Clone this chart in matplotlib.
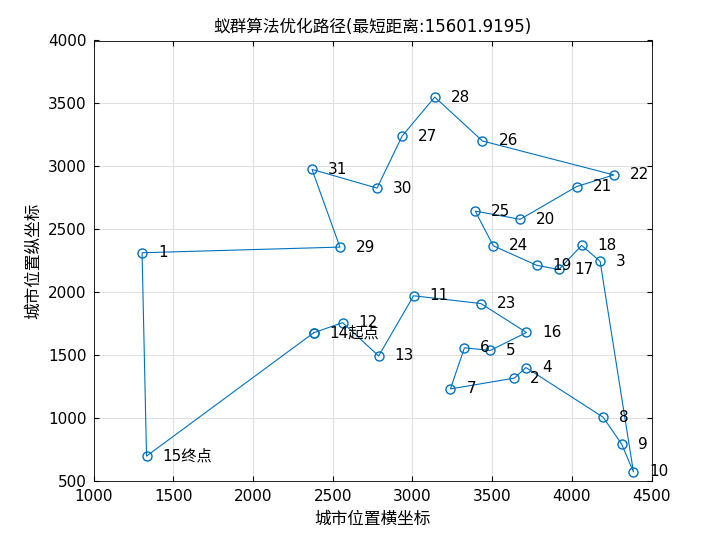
import matplotlib
matplotlib.use("Agg")
import matplotlib.pyplot as plt

plt.rcParams['font.family'] = ['DejaVu Sans', 'Noto Sans CJK SC']

city_x = [1304,3639,4177,3712,3488,3326,3238,4196,4312,4386,3007,2562,2788,2381,1332,
          3715,3918,4061,3780,3676,4029,4263,3429,3507,3394,3439,2935,3140,2545,2778,2370]
city_y = [2312,1315,2244,1399,1535,1556,1229,1004,790,570,1970,1756,1491,1676,695,
          1678,2179,2370,2212,2578,2838,2931,1908,2367,2643,3201,3240,3550,2357,2826,2975]
route = [14,12,13,11,23,16,5,6,7,2,4,8,9,10,3,18,17,19,24,25,20,21,22,26,28,27,30,31,29,1,15,14]
labels = [str(i+1) for i in range(31)]
labels[13] = "14起点"
labels[14] = "15终点"
best = 15601.9195

fig = plt.figure(figsize=(7.2,5.4), dpi=100)
ax = fig.add_axes([0.13, 0.11, 0.775, 0.815])
rx = [city_x[i-1] for i in route]
ry = [city_y[i-1] for i in route]
c = '#0072BD'
ax.plot(rx, ry, '-', color=c, lw=0.8, marker='o', mfc='none', mec=c, ms=6.5)
for i in range(31):
    ax.text(city_x[i]+100, city_y[i], labels[i], fontsize=11, va='center', ha='left')
ax.set_xlim(1000,4500); ax.set_ylim(500,4000)
ax.set_xticks(range(1000,4501,500)); ax.set_yticks(range(500,4001,500))
ax.grid(True, color='#e0e0e0', lw=0.8)
ax.set_axisbelow(True)
ax.tick_params(labelsize=11, direction='in', top=True, right=True)
ax.tick_params(axis='x', pad=6)
ax.tick_params(axis='y', pad=5)
for s in ax.spines.values():
    s.set_linewidth(0.6)
ax.set_title(f"蚁群算法优化路径(最短距离:{best})", fontsize=12)
ax.set_xlabel("城市位置横坐标", fontsize=12)
ax.set_ylabel("城市位置纵坐标", fontsize=12)
fig.savefig("out.png")
